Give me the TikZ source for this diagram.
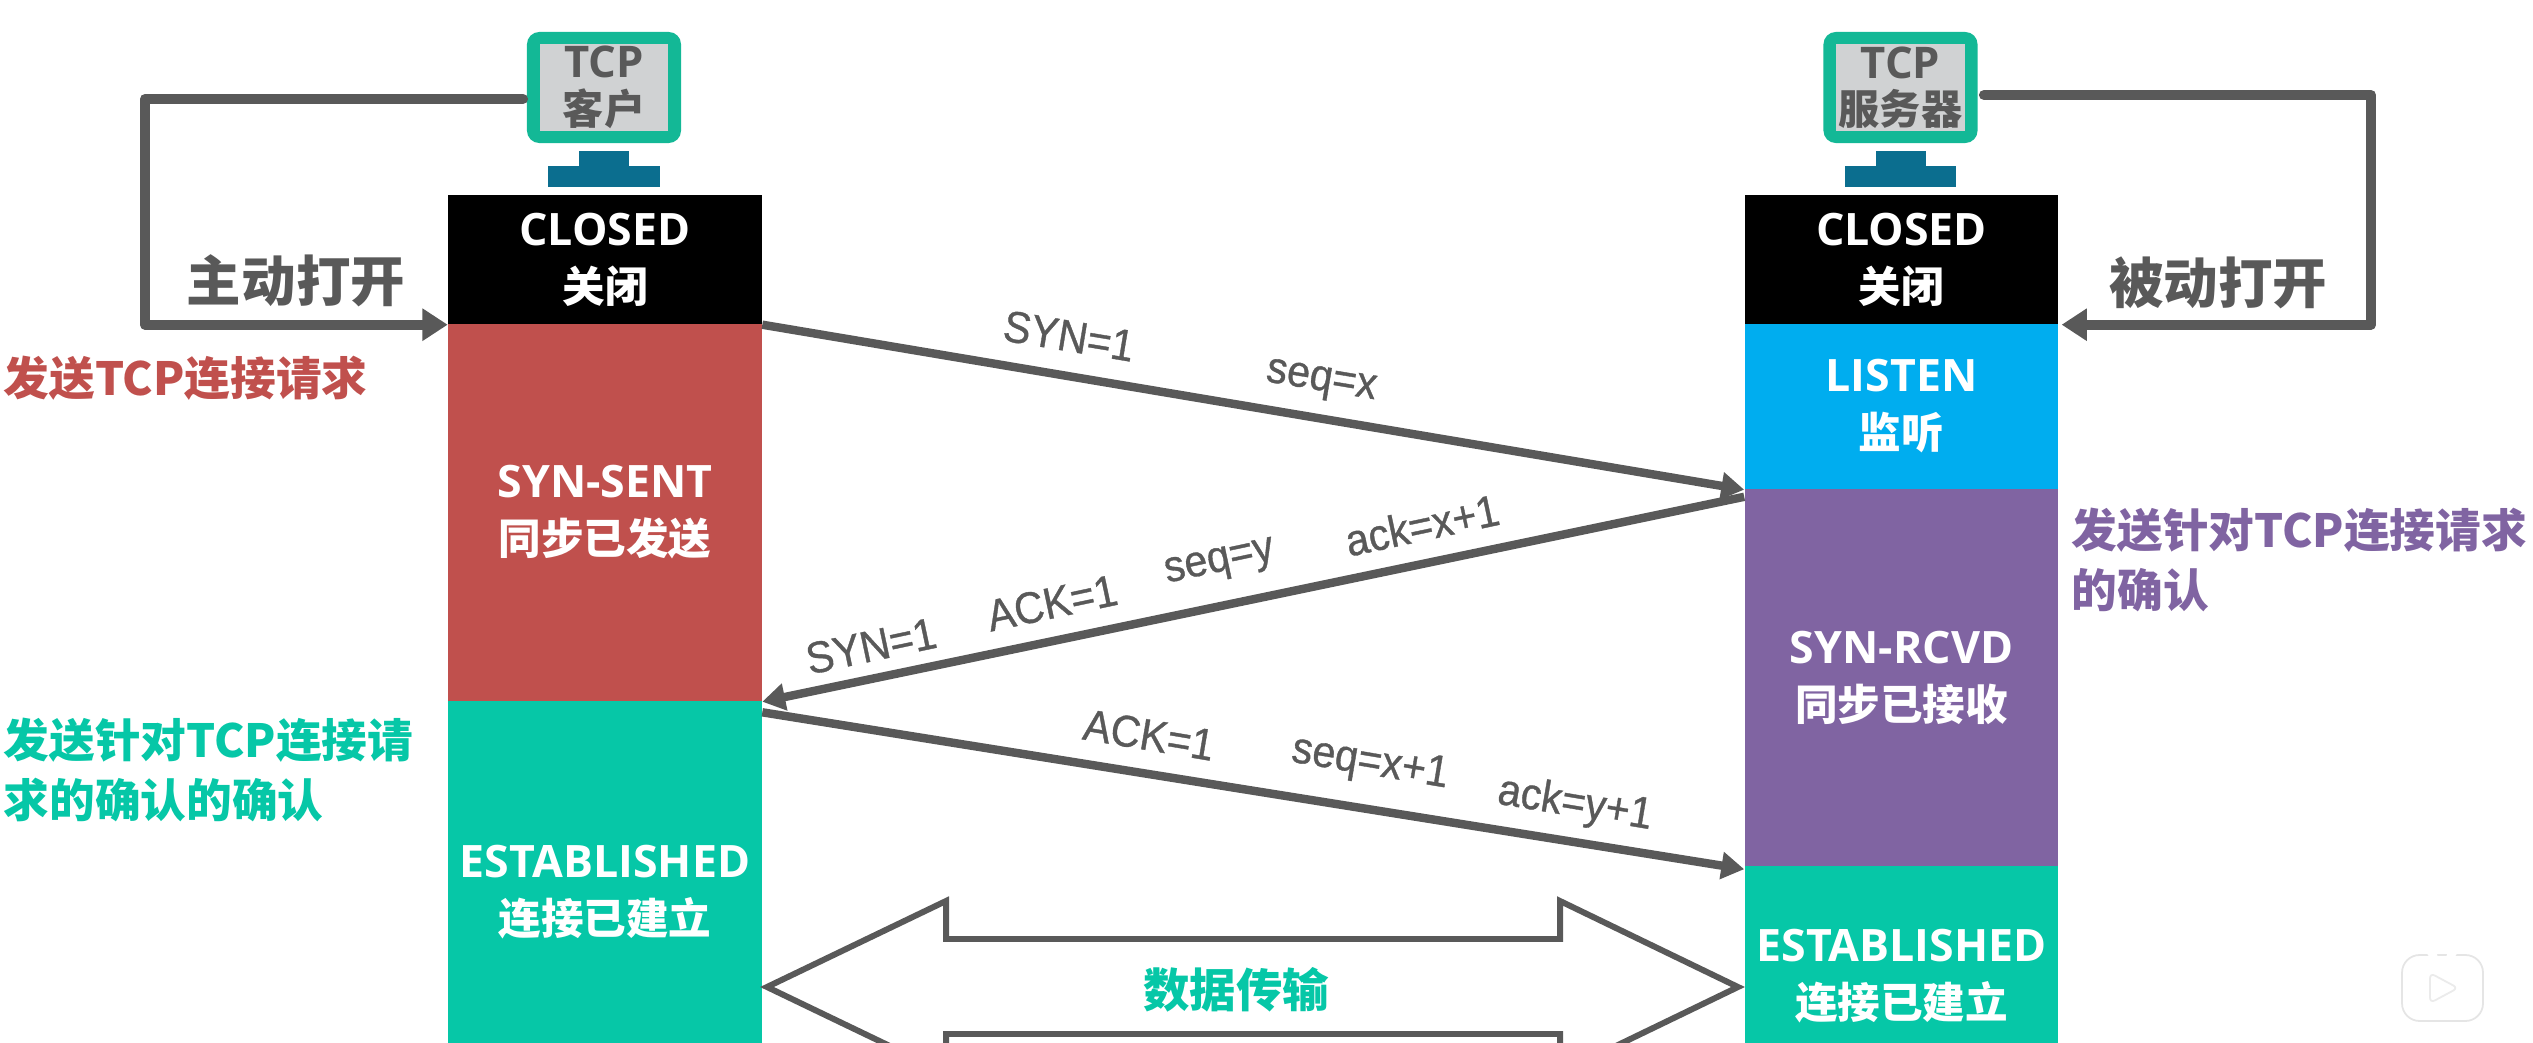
\documentclass[tikz,border=0pt]{standalone}
\usepackage{fontspec}
\setmainfont{Open Sans}
\setsansfont{Liberation Sans}
\newfontfamily\cjk{Noto Sans CJK SC}
\newfontfamily\segfont[FakeBold=0.8, FakeStretch=0.93]{Liberation Sans}
\newcommand\cjkbox{\cjk\fontsize{12.1}{16.2}\selectfont}
\newcommand\cjkscr{\cjk\fontsize{11.7}{13.2}\selectfont}
\usetikzlibrary{arrows.meta, positioning, calc}
\definecolor{mGray}{HTML}{595959}
\definecolor{mScreen}{HTML}{D0D2D3}
\definecolor{mFrame}{HTML}{13B896}
\definecolor{mStand}{HTML}{0B6E8F}
\definecolor{mRed}{HTML}{C0504D}
\definecolor{mTeal}{HTML}{06C7A7}
\definecolor{mBlue}{HTML}{00ADEF}
\definecolor{mPurple}{HTML}{8064A2}
\begin{document}
\begin{tikzpicture}[x=0.01cm, y=-0.01cm,
    statebox/.style={inner sep=0pt, text=white, align=center, minimum width=3.13cm,
      font=\bfseries\fontsize{12.7}{16.2}\selectfont, execute at begin node={\rule{0pt}{14pt}}},
    flagtxt/.style={inner sep=0pt, font=\cjk\bfseries\fontsize{15.5}{17}\selectfont, text=mGray},
    sidetxt/.style={inner sep=0pt, anchor=west, font=\cjk\bfseries\fontsize{13}{17}\selectfont},
    segtxt/.style={inner sep=0pt, text=mGray, font=\segfont\fontsize{12.6}{14}\selectfont},
    msgline/.style={draw=mGray, line width=2.4pt, -{Triangle[length=6.5pt,width=7.5pt]}},
    openline/.style={draw=mGray, line width=2.9pt, line join=round, line cap=round,
      -{Triangle[length=7.2pt,width=8.8pt]}}]
  \clip (0,0) rectangle (2533,1043);
  % terminals
  \foreach \name/\x/\txt in {client/604/{TCP\\\cjkscr 客户}, server/1900.5/{TCP\\\cjkscr 服务器}} {
    \node[fill=mFrame, rounded corners=3.5pt, minimum width=1.54cm, minimum height=1.11cm, inner sep=0pt]
      (\name Frame) at (\x,87.5) {};
    \node[fill=mScreen, text=mGray, align=center, minimum width=1.28cm, minimum height=0.87cm, inner sep=0pt,
      font=\bfseries\fontsize{12.4}{13.2}\selectfont] (\name Screen) at (\x,87.5) {\txt};
    \node[fill=mStand, minimum width=0.5cm, minimum height=0.2cm, inner sep=0pt] (\name Neck) at (\x,161) {};
    \node[fill=mStand, minimum width=1.11cm, minimum height=0.21cm, inner sep=0pt] (\name Base) at (\x,176.5) {};
  }
  % state columns
  \foreach \name/\x/\y/\h/\fillc/\txt in {
      closedL/605/259.5/129/black/{CLOSED\\\cjkbox 关闭},
      sentL/605/512.5/377/mRed/{SYN-SENT\\\cjkbox 同步已发送},
      estabL/605/892/382/mTeal/{ESTABLISHED\\\cjkbox 连接已建立},
      closedR/1901.5/259.5/129/black/{CLOSED\\\cjkbox 关闭},
      listenR/1901.5/406.5/165/mBlue/{LISTEN\\\cjkbox 监听},
      rcvdR/1901.5/677.5/376/mPurple/{SYN-RCVD\\\cjkbox 同步已接收},
      estabR/1901.5/976/220/mTeal/{ESTABLISHED\\\cjkbox 连接已建立}} {
    \node[statebox, fill=\fillc, minimum height=\h*0.01cm] (\name) at (\x,\y) {\txt};
  }
  % open arrows
  \coordinate (clientOut) at (523,99);
  \coordinate (clientTurn) at (145,99);
  \coordinate (serverOut) at (1984,95);
  \coordinate (serverTurn) at (2371,95);
  \draw[openline] (clientOut) -- (clientTurn) |- (closedL.south west);
  \draw[openline, shorten >=0.8pt] (serverOut) -- (serverTurn) |- (closedR.south east);
  \node[flagtxt] (activeTxt) at (296,281) {主动打开};
  \node[flagtxt] (passiveTxt) at (2218,283) {被动打开};
  % handshake
  \draw[msgline] (closedL.south east) -- (listenR.south west);
  \draw[msgline] ([yshift=-0.08cm]rcvdR.north west) -- (sentL.south east);
  \draw[msgline] ([yshift=-0.12cm]estabL.north east) -- ([yshift=-0.03cm]rcvdR.south west);
  \foreach \name/\x/\y/\ang/\txt in {
      synA/1069/336/-9.4/SYN=1, seqA/1321/383/-9.4/seq=x,
      synB/871/646/12/SYN=1, ackB/1052/603/12/ACK=1, seqB/1220/564/12/seq=y, ackNumB/1422/525/12/ack=x+1,
      ackC/1149/735/-9.5/ACK=1, seqC/1370/764/-9.5/seq=x+1, ackNumC/1575/805/-9.5/ack=y+1} {
    \node[segtxt, rotate=\ang] (\name) at (\x,\y) {\txt};
  }
  % data transfer
  \draw[mGray, line width=1.7pt, miter limit=10] (767,987) -- (946,901) -- (946,939) -- (1560,939) -- (1560,901)
    -- (1738,987) -- (1560,1073) -- (1560,1034) -- (946,1034) -- (946,1073) -- cycle;
  \node[inner sep=0pt, text=mTeal, font=\cjk\bfseries\fontsize{13.2}{15}\selectfont] (dataTxt) at (1236,990) {数据传输};
  % notes
  \node[sidetxt, text=mRed] (noteSyn) at (3,378) {发送TCP连接请求};
  \node[sidetxt, text=mTeal] (noteAckA) at (3,740) {发送针对TCP连接请};
  \node[sidetxt, text=mTeal] (noteAckB) at (3,800) {求的确认的确认};
  \node[sidetxt, text=mPurple] (noteRcvdA) at (2071,530) {发送针对TCP连接请求};
  \node[sidetxt, text=mPurple] (noteRcvdB) at (2071,590) {的确认};
  % site badge
  \draw[black!10, line width=0.5pt, fill=white, rounded corners=5pt] (2402,955) rectangle (2483,1021);
  \draw[white, line width=2.2pt, line cap=round] (2426,945) -- (2434,957) (2458,945) -- (2450,957);
  \draw[black!8, line width=0.5pt, fill=white, rounded corners=1.5pt] (2430,973) -- (2458,988) -- (2430,1003) -- cycle;
\end{tikzpicture}
\end{document}
